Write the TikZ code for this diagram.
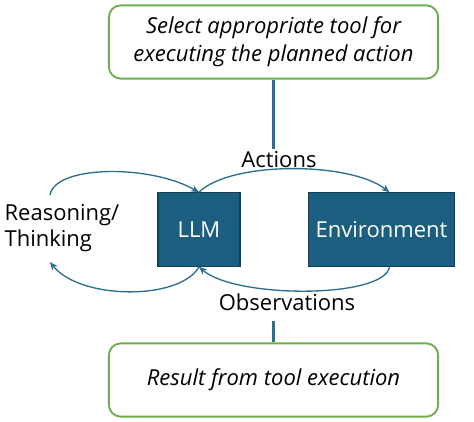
\documentclass[tikz,border=0pt]{standalone}
\usepackage{fontspec}
\setmainfont{Open Sans}
\usetikzlibrary{arrows.meta,positioning}
\definecolor{llmblue}{HTML}{1B5E7F}
\definecolor{llmedge}{HTML}{123F56}
\definecolor{loopblue}{HTML}{2C6E8E}
\definecolor{notegreen}{HTML}{6DAE4A}

\begin{document}
\begin{tikzpicture}[
    x=0.75pt, y=-0.75pt,
    notebox/.style={draw=notegreen, line width=1.4pt, rounded corners=9pt, fill=white,
                minimum width=247pt, minimum height=55pt,
                font=\fontsize{16.5}{21}\selectfont\itshape, align=center},
    agent/.style={draw=llmedge, fill=llmblue, text=white, line width=0.9pt,
                minimum height=55pt, inner sep=1pt, font=\fontsize{16.5}{20}\selectfont},
    tag/.style={font=\fontsize{16.5}{20}\selectfont, inner sep=1pt},
    arrow/.style={-{Stealth[length=6pt,width=5pt]}, loopblue, line width=1pt},
    link/.style={loopblue, line width=1.6pt},
]
\useasboundingbox (0,0) rectangle (474,421);

% Tool notes
\node[notebox] (select) at (273.5,42) {Select appropriate tool for\\executing the planned action};
\node[notebox] (result) at (273.5,380) {Result from tool execution};

% Agent and environment
\node[agent, minimum width=61.5pt] (llm) at (199,229.5) {LLM};
\node[agent, minimum width=110pt] (env) at (381.5,229.5) {Environment};

% Labels
\node[tag] (actions) at (279,160) {Actions};
\node[tag] (observations) at (287,302) {Observations};
\node[tag, anchor=west, align=left] (reasoning) at (3,228) {Reasoning/\\Thinking};
\coordinate (thinktop) at (50,195);
\coordinate (thinkbot) at (50,262);

% Links to notes
\draw[link] (select.south) -- ++(0,69);
\draw[link] (result.north) -- ++(0,-21);

% Loops
\draw[arrow] (thinktop) .. controls +(5,-30) and +(-49,-28) .. (llm.north);
\draw[arrow] (llm.north) .. controls +(31,-31) and +(-40,-31) .. ([xshift=6pt]env.north);
\draw[arrow] ([xshift=6pt]env.south) .. controls +(-5,32) and +(36,32) .. (llm.south);
\draw[arrow] (llm.south) .. controls +(-19,34) and +(30,38) .. (thinkbot);

\end{tikzpicture}
\end{document}
